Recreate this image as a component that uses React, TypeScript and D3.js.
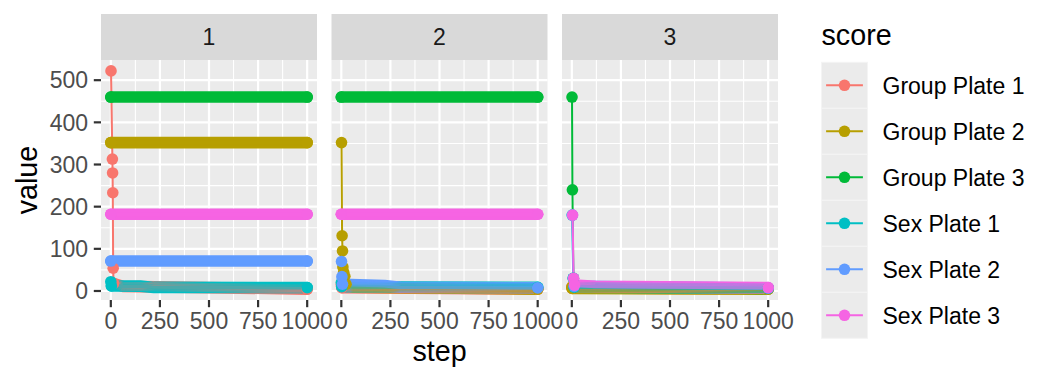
import React from "react";
import * as d3 from "d3";

// ---------- data ----------
const facets = ["1", "2", "3"];
const seriesNames = [
  "Group Plate 1",
  "Group Plate 2",
  "Group Plate 3",
  "Sex Plate 1",
  "Sex Plate 2",
  "Sex Plate 3",
];
const seriesColors = ["#F8766D", "#B79F00", "#00BA38", "#00BFC4", "#619CFF", "#F564E3"];
const xTicks = [0, 250, 500, 750, 1000];
const yTicks = [0, 100, 200, 300, 400, 500];
const stepExtent = [0, 1000];

// keypoints: [step, value, dense]; dense = 1 means a point sits at every step
// between the previous keypoint and this one
type KP = [number, number, number?];

const groupPlate1: Record<string, KP[]> = {
  "1": [[1, 522], [8, 313], [9, 280], [10, 233], [12, 54], [14, 18], [60, 11, 1], [1000, 4.5, 1]],
  "2": [[0, 15], [3, 8], [1000, 4.5, 1]],
  "3": [[0, 10], [2, 7], [1000, 5, 1]],
};
const groupPlate2: Record<string, KP[]> = {
  "1": [[0, 352], [1000, 352, 1]],
  "2": [[1, 352], [4, 131], [6, 95], [8, 57], [12, 45], [18, 35], [24, 16], [60, 9, 1], [1000, 4.5, 1]],
  "3": [[0, 9], [2, 6], [1000, 4.5, 1]],
};
const groupPlate3: Record<string, KP[]> = {
  "1": [[0, 460], [1000, 460, 1]],
  "2": [[0, 460], [1000, 460, 1]],
  "3": [[1, 460], [3, 240], [8, 30], [12, 10], [1000, 6, 1]],
};
const sexPlate1: Record<string, KP[]> = {
  "1": [[0, 22], [3, 12], [150, 11.5, 1], [220, 8.5, 1], [1000, 8, 1]],
  "2": [[0, 20], [2, 10], [1000, 8.5, 1]],
  "3": [[2, 180], [7, 30], [12, 9], [1000, 6.5, 1]],
};
const sexPlate2: Record<string, KP[]> = {
  "1": [[0, 71], [1000, 71, 1]],
  "2": [[1, 70], [3, 34], [6, 16], [220, 13, 1], [300, 9, 1], [1000, 7.5, 1]],
  "3": [[3, 180], [8, 30], [12, 11], [1000, 7, 1]],
};
const sexPlate3: Record<string, KP[]> = {
  "1": [[0, 182], [1000, 182, 1]],
  "2": [[0, 182], [1000, 182, 1]],
  "3": [[4, 180], [9, 30], [14, 14], [120, 11, 1], [1000, 8, 1]],
};

const allSeries = [groupPlate1, groupPlate2, groupPlate3, sexPlate1, sexPlate2, sexPlate3];

// ---------- layout ----------
const W = 1056;
const H = 384;
const panelLeft = 101;
const panelW = 216;
const panelGap = 14.5;
const stripTop = 14;
const plotTop = 60;
const plotBottom = 300;
const R = 5.8;
const FONT = "'Liberation Sans', Arial, Helvetica, sans-serif";
const tickFont = 23;
const titleFont = 28.7;

function midpoints(t: number[]) {
  const out: number[] = [];
  for (let i = 0; i < t.length - 1; i++) out.push((t[i] + t[i + 1]) / 2);
  return out;
}

export default function App() {
  const allValues = allSeries.flatMap((s) => facets.flatMap((f) => s[f].map((p) => p[1])));
  const [lo, hi] = d3.extent(allValues) as [number, number];
  const yPad = (hi - lo) * 0.05;
  const y = d3.scaleLinear().domain([lo - yPad, hi + yPad]).range([plotBottom, plotTop]);
  const xPad = (stepExtent[1] - stepExtent[0]) * 0.05;

  const yMinor = midpoints(yTicks);
  const xMinor = midpoints(xTicks);

  const passes = [
    { f: 1, o: 1 },
    { f: 0.78, o: 0.55 },
    { f: 0.56, o: 0.55 },
    { f: 0.34, o: 0.55 },
  ];

  const panels = facets.map((facet, fi) => {
    const left = panelLeft + fi * (panelW + panelGap);
    const x = d3
      .scaleLinear()
      .domain([stepExtent[0] - xPad, stepExtent[1] + xPad])
      .range([left, left + panelW]);
    const line = d3
      .line<KP>()
      .x((d) => x(d[0]))
      .y((d) => y(d[1]));

    // dense runs per series
    const runs = allSeries.map((s) => {
      const pts = s[facet];
      const out: KP[][] = [];
      let cur: KP[] | null = null;
      for (let i = 0; i < pts.length; i++) {
        if (pts[i][2]) {
          if (!cur) cur = [pts[i - 1]];
          cur.push(pts[i]);
        } else {
          if (cur) out.push(cur);
          cur = null;
        }
      }
      if (cur) out.push(cur);
      return out;
    });

    return (
      <g key={facet}>
        {/* strip */}
        <rect x={left} y={stripTop} width={panelW} height={plotTop - stripTop} fill="#D9D9D9" />
        <text
          x={left + panelW / 2}
          y={(stripTop + plotTop) / 2 + 8.2}
          textAnchor="middle"
          fontSize={tickFont}
          fill="#1A1A1A"
          fontFamily={FONT}
        >
          {facet}
        </text>
        {/* panel */}
        <rect x={left} y={plotTop} width={panelW} height={plotBottom - plotTop} fill="#EBEBEB" />
        <g>
          {yMinor.map((v) => (
            <line key={"ym" + v} x1={left} x2={left + panelW} y1={y(v)} y2={y(v)} stroke="#fff" strokeWidth={1.1} />
          ))}
          {xMinor.map((v) => (
            <line key={"xm" + v} x1={x(v)} x2={x(v)} y1={plotTop} y2={plotBottom} stroke="#fff" strokeWidth={1.1} />
          ))}
          {yTicks.map((v) => (
            <line key={"yM" + v} x1={left} x2={left + panelW} y1={y(v)} y2={y(v)} stroke="#fff" strokeWidth={2.2} />
          ))}
          {xTicks.map((v) => (
            <line key={"xM" + v} x1={x(v)} x2={x(v)} y1={plotTop} y2={plotBottom} stroke="#fff" strokeWidth={2.2} />
          ))}
        </g>
        <defs>
          <clipPath id={"clip" + fi}>
            <rect x={left} y={plotTop} width={panelW} height={plotBottom - plotTop} />
          </clipPath>
        </defs>
        <g clipPath={`url(#clip${fi})`}>
          {/* lines */}
          {allSeries.map((s, si) => (
            <path
              key={"l" + si}
              d={line(s[facet]) || ""}
              fill="none"
              stroke={seriesColors[si]}
              strokeWidth={2}
              strokeLinejoin="round"
            />
          ))}
          {/* dense point trails */}
          {passes.map((p, pi) =>
            allSeries.map((s, si) =>
              runs[si].map((run, ri) => (
                <path
                  key={`b${pi}-${si}-${ri}`}
                  d={line(run) || ""}
                  fill="none"
                  stroke={seriesColors[si]}
                  strokeOpacity={p.o}
                  strokeWidth={2 * R * p.f}
                  strokeLinecap="round"
                  strokeLinejoin="round"
                />
              ))
            )
          )}
          {/* individual points */}
          {allSeries.map((s, si) =>
            s[facet]
              .filter((p, i, arr) => !p[2] || i === arr.length - 1)
              .map((p, i) => (
                <circle key={`c${si}-${i}`} cx={x(p[0])} cy={y(p[1])} r={R} fill={seriesColors[si]} />
              ))
          )}
        </g>
        {/* x axis */}
        {xTicks.map((v) => (
          <g key={"xt" + v}>
            <line x1={x(v)} x2={x(v)} y1={plotBottom} y2={plotBottom + 7.2} stroke="#333333" strokeWidth={2.2} />
            <text x={x(v)} y={329} textAnchor="middle" fontSize={tickFont} fill="#4D4D4D" fontFamily={FONT}>
              {v}
            </text>
          </g>
        ))}
      </g>
    );
  });

  const legendX = 821.5;
  const legendTop = 62.3;
  const keyH = 46;

  return (
    <svg
      width={W}
      height={H}
      viewBox={`0 0 ${W} ${H}`}
      style={{ position: "absolute", left: 0, top: 0, background: "#fff" }}
    >
      <rect x={0} y={0} width={W} height={H} fill="#fff" />
      {panels}
      {/* y axis */}
      {yTicks.map((v) => (
        <g key={"yt" + v}>
          <line x1={panelLeft - 7.2} x2={panelLeft} y1={y(v)} y2={y(v)} stroke="#333333" strokeWidth={2.2} />
          <text
            x={panelLeft - 7.2 - 5.7}
            y={y(v) + 8.2}
            textAnchor="end"
            fontSize={tickFont}
            fill="#4D4D4D"
            fontFamily={FONT}
          >
            {v}
          </text>
        </g>
      ))}
      {/* axis titles */}
      <text
        x={panelLeft + (3 * panelW + 2 * panelGap) / 2}
        y={361}
        textAnchor="middle"
        fontSize={titleFont}
        fill="#000"
        fontFamily={FONT}
      >
        step
      </text>
      <text
        transform={`translate(36.5,${(plotTop + plotBottom) / 2}) rotate(-90)`}
        textAnchor="middle"
        fontSize={titleFont}
        fill="#000"
        fontFamily={FONT}
      >
        value
      </text>
      {/* legend */}
      <text x={legendX} y={45} fontSize={titleFont} fill="#000" fontFamily={FONT}>
        score
      </text>
      {seriesNames.map((name, i) => {
        const top = legendTop + i * keyH;
        const cy = top + keyH / 2;
        return (
          <g key={name}>
            <rect x={legendX} y={top} width={46} height={keyH} fill="#EBEBEB" stroke="#F4F4F4" strokeWidth={1} />
            <line x1={legendX + 4.6} x2={legendX + 41.4} y1={cy} y2={cy} stroke={seriesColors[i]} strokeWidth={2} />
            <circle cx={legendX + 23} cy={cy} r={R} fill={seriesColors[i]} />
            <text x={882.5} y={cy + 8.2} fontSize={tickFont} fill="#000" fontFamily={FONT}>
              {name}
            </text>
          </g>
        );
      })}
    </svg>
  );
}
